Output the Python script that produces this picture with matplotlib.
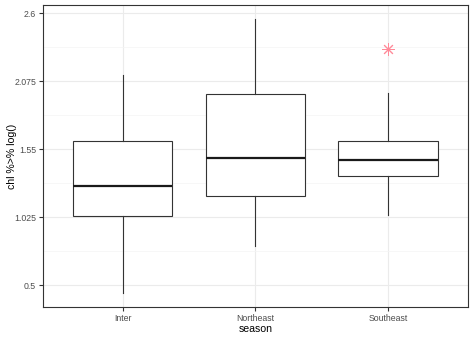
import matplotlib.pyplot as plt
from matplotlib.ticker import FixedLocator

plt.rcParams['font.family'] = ['Liberation Sans', 'DejaVu Sans']

# summary stats per season (log chl)
seasons = ["Inter", "Northeast", "Southeast"]
whislo = [0.436, 0.804, 1.039]
q1 = [1.031, 1.188, 1.345]
med = [1.266, 1.482, 1.469]
q3 = [1.611, 1.977, 1.614]
whishi = [2.126, 2.557, 1.987]
outliers = [[], [], [2.323]]

yticks = [0.5, 1.025, 1.55, 2.075, 2.6]
yminor = [0.7625, 1.2875, 1.8125, 2.3375]

stats = []
for i, s in enumerate(seasons):
    stats.append(dict(label=s, whislo=whislo[i], q1=q1[i], med=med[i],
                      q3=q3[i], whishi=whishi[i], fliers=outliers[i]))

fig = plt.figure(figsize=(4.74, 3.38), dpi=100)
ax = fig.add_axes([0.0907, 0.0917, 0.8963, 0.8933])

positions = [1, 2, 3]
ax.bxp(stats, positions=positions, widths=0.75, showfliers=False,
       patch_artist=True,
       boxprops=dict(facecolor="white", edgecolor="#333333", linewidth=0.8),
       medianprops=dict(color="#1a1a1a", linewidth=1.6),
       whiskerprops=dict(color="#333333", linewidth=0.8),
       capprops=dict(linewidth=0), zorder=3)

# outliers as red asterisks
for p, o in zip(positions, outliers):
    if o:
        ax.plot([p] * len(o), o, linestyle="none", marker=(8, 2, 0),
                markersize=9, markeredgecolor="#ff8a99", markeredgewidth=0.7,
                zorder=4)

ax.set_xlim(0.4, 3.6)
ax.set_ylim(0.33, 2.665)
ax.set_xticks(positions)
ax.set_xticklabels(seasons)
ax.yaxis.set_major_locator(FixedLocator(yticks))
ax.set_yticklabels([str(t) for t in yticks])
ax.yaxis.set_minor_locator(FixedLocator(yminor))

ax.grid(True, which="major", color="#ebebeb", linewidth=0.8, zorder=0)
ax.grid(True, which="minor", axis="y", color="#f4f4f4", linewidth=0.5, zorder=0)
ax.set_axisbelow(True)

for sp in ax.spines.values():
    sp.set_color("#333333")
    sp.set_linewidth(0.8)

ax.tick_params(which="major", length=3, width=0.8, color="#333333",
               labelsize=6.3, labelcolor="#4d4d4d", pad=2)
ax.tick_params(which="minor", length=0)

ax.set_xlabel("season", fontsize=7.6)
ax.set_ylabel("chl %>% log()", fontsize=7.6)
ax.xaxis.set_label_coords(0.5, -0.057)
ax.yaxis.set_label_coords(-0.062, 0.5)

fig.savefig("out.png", dpi=100)
